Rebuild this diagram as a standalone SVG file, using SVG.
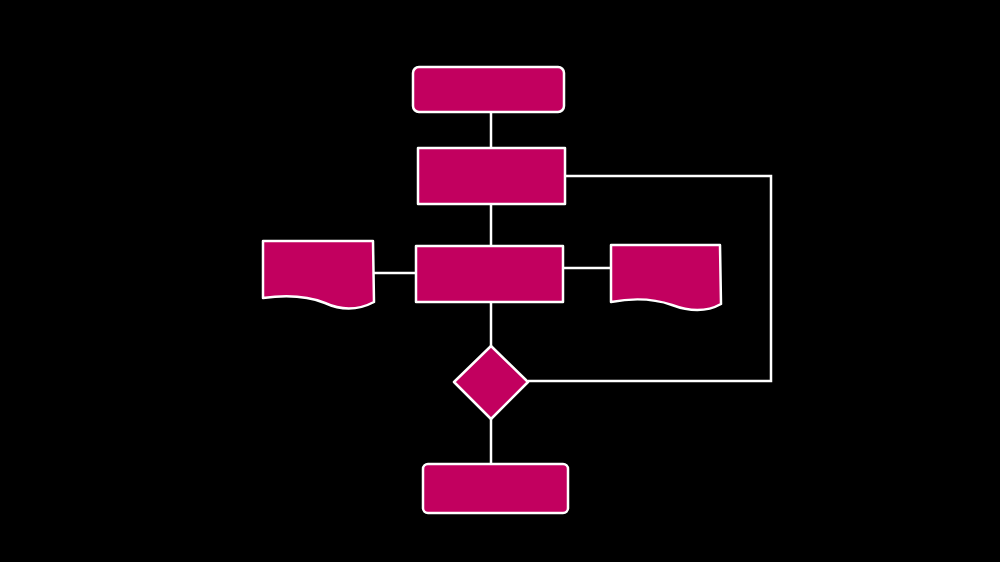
<svg xmlns="http://www.w3.org/2000/svg" width="1000" height="562" viewBox="0 0 1000 562">
<style>
.n{fill:#c2005f;stroke:#ffffff;stroke-width:2.5;stroke-linejoin:round}
.c{fill:none;stroke:#ffffff;stroke-width:2.5}
</style>
<rect x="0" y="0" width="1000" height="562" fill="#000000"/>
<g id="connectors">
<line class="c" x1="491" y1="112" x2="491" y2="148"/>
<line class="c" x1="491" y1="204" x2="491" y2="246"/>
<line class="c" x1="374" y1="273" x2="416" y2="273"/>
<line class="c" x1="563" y1="268" x2="611" y2="268"/>
<line class="c" x1="491" y1="302" x2="491" y2="346"/>
<line class="c" x1="491" y1="419" x2="491" y2="464"/>
<polyline class="c" points="565,176 771,176 771,381 528,381"/>
</g>
<g id="start"><rect class="n" x="413" y="67" width="151" height="45" rx="6"/></g>
<g id="process1"><rect class="n" x="418" y="148" width="147" height="56"/></g>
<g id="process2"><rect class="n" x="416" y="246" width="147" height="56"/></g>
<g id="docLeft"><path class="n" d="M263,241 L373,241 L374,302 C355,312 338,309 325,303 C305,295 285,295 263,298 Z"/></g>
<g id="docRight"><path class="n" d="M611,245 L720,245 L721,304 C705,313 688,311 672,305 C652,298 632,298 611,302 Z"/></g>
<g id="decision"><polygon class="n" points="491,346 528,382 491,419 454,382"/></g>
<g id="end"><rect class="n" x="423" y="464" width="145" height="49" rx="5"/></g>
</svg>
